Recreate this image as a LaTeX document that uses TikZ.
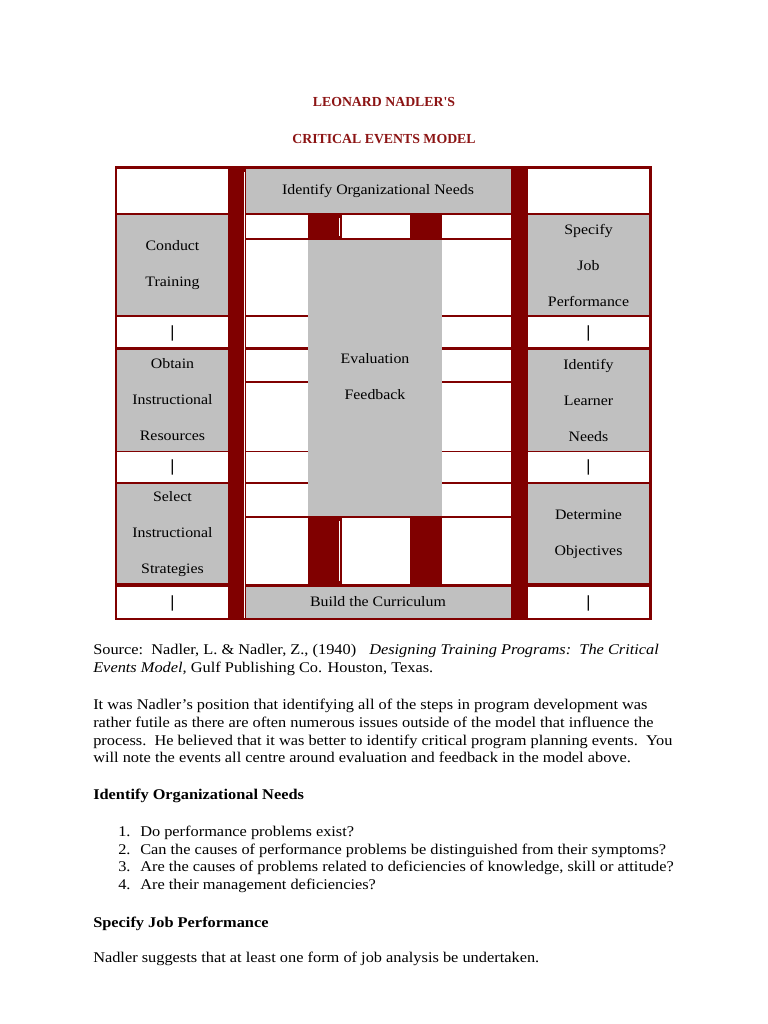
\documentclass[tikz,border=0pt]{standalone}
\usepackage{fontspec}
\setmainfont{Liberation Serif}[FakeStretch=1.1]
\newfontfamily\titlefont{Liberation Serif}
\definecolor{maroon}{RGB}{128,0,0}
\definecolor{cellgray}{RGB}{192,192,192}
\definecolor{titlered}{RGB}{140,20,20}

\begin{document}
\begin{tikzpicture}[x=0.797pt, y=-0.797pt,
  lbl/.style={align=center, inner sep=0pt, font=\fontsize{11.5}{28.7}\selectfont},
  bar/.style={inner sep=0pt, font=\fontsize{13.5}{14}\selectfont\bfseries},
  txt/.style={anchor=base west, inner sep=0pt, font=\fontsize{11.85}{14}\selectfont},
  head/.style={txt, font=\fontsize{11.85}{14}\selectfont\bfseries},
  title/.style={inner sep=0pt, text=titlered, font=\titlefont\fontsize{11}{13}\selectfont\bfseries}]
  \useasboundingbox[fill=white] (0,0) rectangle (768,1024);

  \node[title] (title1) at (384,102) {LEONARD NADLER'S};
  \node[title] (title2) at (384,139) {CRITICAL EVENTS MODEL};

  \fill[maroon] (115,166) rectangle (652,620);
  \foreach \xa/\xb in {117/228, 528/649} {
    \fill[white] (\xa,169) rectangle (\xb,213);
    \fill[cellgray] (\xa,215) rectangle (\xb,315);
    \fill[white] (\xa,317) rectangle (\xb,347);
    \fill[cellgray] (\xa,350) rectangle (\xb,451);
    \fill[white] (\xa,452) rectangle (\xb,482);
    \fill[cellgray] (\xa,484) rectangle (\xb,583);
    \fill[white] (\xa,587) rectangle (\xb,618);
  }
  \foreach \xa/\xb in {246/308, 442/511}
    \foreach \ya/\yb in {215/238, 240/315, 317/347, 350/381, 383/451, 452/482, 484/516, 518/584}
      \fill[white] (\xa,\ya) rectangle (\xb,\yb);
  \fill[cellgray] (246,169) rectangle (511,213);
  \fill[cellgray] (246,587) rectangle (511,618);
  \fill[white] (342,215) rectangle (410,238);
  \fill[cellgray] (308,240) rectangle (442,516);
  \fill[white] (342,518) rectangle (410,584);
  \draw[white, line width=0.8pt] (244.5,172) -- (244.5,618);
  \draw[white, line width=0.8pt] (339.5,218) -- (339.5,236);
  \draw[white, line width=0.8pt] (339.5,521) -- (339.5,581);

  \node[lbl] (org) at (378,191) {Identify Organizational Needs};
  \node[lbl] (conduct) at (172.5,265) {Conduct\\Training};
  \node[lbl] (obtain) at (172.5,400) {Obtain\\Instructional\\Resources};
  \node[lbl] (select) at (172.5,534) {Select\\Instructional\\Strategies};
  \node[lbl] (specify) at (588.5,265) {Specify\\Job\\Performance};
  \node[lbl] (learner) at (588.5,400) {Identify\\Learner\\Needs};
  \node[lbl] (objectives) at (588.5,534) {Determine\\Objectives};
  \node[lbl] (eval) at (375,377) {Evaluation\\Feedback};
  \node[lbl] (build) at (378,602) {Build the Curriculum};
  \node[bar] (barL1) at (172.5,333) {|};
  \node[bar] (barL2) at (172.5,467) {|};
  \node[bar] (barL3) at (172.5,603) {|};
  \node[bar] (barR1) at (588.5,333) {|};
  \node[bar] (barR2) at (588.5,467) {|};
  \node[bar] (barR3) at (588.5,603) {|};

  \node[txt] (src1) at (93,654) {Source:\ \ Nadler, L. \& Nadler, Z., (1940)};
  \node[txt] (src1b) at (369,654) {\itshape Designing Training Programs:\ \ The Critical};
  \node[txt] (src2) at (93,672) {\textit{Events Model,} Gulf Publishing Co. Houston, Texas.};
  \node[txt] (par1) at (93,709) {It was Nadler's position that identifying all of the steps in program development was};
  \node[txt] (par2) at (93,727) {rather futile as there are often numerous issues outside of the model that influence the};
  \node[txt] (par3) at (93,745) {process.\ \ He believed that it was better to identify critical program planning events.\ \ You};
  \node[txt] (par4) at (93,762) {will note the events all centre around evaluation and feedback in the model above.};
  \node[head] (head1) at (93,799) {Identify Organizational Needs};
  \node[txt] (n1) at (118,836) {1.};
  \node[txt] (q1) at (140,836) {Do performance problems exist?};
  \node[txt] (n2) at (118,854) {2.};
  \node[txt] (q2) at (140,854) {Can the causes of performance problems be distinguished from their symptoms?};
  \node[txt] (n3) at (118,871) {3.};
  \node[txt] (q3) at (140,871) {Are the causes of problems related to deficiencies of knowledge, skill or attitude?};
  \node[txt] (n4) at (118,889) {4.};
  \node[txt] (q4) at (140,889) {Are their management deficiencies?};
  \node[head] (head2) at (93,927) {Specify Job Performance};
  \node[txt] (par5) at (93,962) {Nadler suggests that at least one form of job analysis be undertaken.};
\end{tikzpicture}
\end{document}
